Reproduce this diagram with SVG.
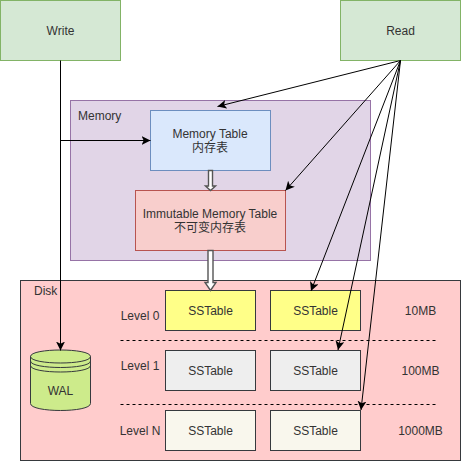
<svg xmlns="http://www.w3.org/2000/svg" width="462" height="462" viewBox="0 0 462 462">
<style>
text{font-family:"Liberation Sans",Arial,"Noto Sans CJK SC",sans-serif;font-size:12px;fill:#333;text-anchor:middle}
.l{text-anchor:start}
.g{fill:#d5e8d4;stroke:#82b366}
.e{fill:none;stroke:#000;stroke-width:1}
.b{fill:#fff;stroke:#555;stroke-width:1.4}
.d{fill:none;stroke:#000;stroke-dasharray:3 3}
</style>
<defs>
<marker id="a" markerUnits="userSpaceOnUse" markerWidth="10" markerHeight="10" refX="9" refY="4.5" orient="auto"><path d="M0 0L9 4.5L0 9L2.2 4.5Z" fill="#000"/></marker>
</defs>
<g id="write"><rect class="g" x="0.5" y="0.5" width="120" height="60"/><text x="60.5" y="35">Write</text></g>
<g id="read"><rect class="g" x="340.5" y="0.5" width="120" height="60"/><text x="400.5" y="35">Read</text></g>
<g id="memory"><rect x="70.5" y="100.5" width="300" height="160" fill="#e1d5e7" stroke="#9673a6"/><text class="l" x="78" y="120">Memory</text></g>
<g id="disk"><rect x="20.5" y="280.5" width="440" height="180" fill="#ffcccc" stroke="#36393d"/><text class="l" x="34" y="295">Disk</text></g>
<g id="memtable"><rect x="150.5" y="110.5" width="120" height="60" fill="#dae8fc" stroke="#6c8ebf"/><text x="210" y="138">Memory Table</text><text x="210" y="152">内存表</text></g>
<g id="immutable"><rect x="135.5" y="190.5" width="150" height="60" fill="#f8cecc" stroke="#b85450"/><text x="210" y="218">Immutable Memory Table</text><text x="210" y="232">不可变内存表</text></g>
<g id="wal"><path d="M30.500 356.500C30.500 347.830 90.500 347.830 90.500 356.500L90.500 403.500C90.500 412.830 30.500 412.830 30.500 403.500Z" fill="#cdeb8b" stroke="#36393d"/><path d="M30.500 356.500C30.500 365.170 90.500 365.170 90.500 356.500M30.500 361C30.500 369.670 90.500 369.670 90.500 361M30.500 365.500C30.500 374.170 90.500 374.170 90.500 365.500" fill="none" stroke="#36393d"/><text x="60.500" y="395">WAL</text></g>
<g id="l0"><text x="140" y="320">Level 0</text></g>
<g id="l1"><text x="140" y="370">Level 1</text></g>
<g id="ln"><text x="140" y="435">Level N</text></g>
<g id="s00"><rect x="165.500" y="290.500" width="90" height="40" fill="#ffff88" stroke="#36393d"/><text x="210.500" y="315">SSTable</text></g>
<g id="s01"><rect x="270.500" y="290.500" width="90" height="40" fill="#ffff88" stroke="#36393d"/><text x="315.500" y="315">SSTable</text></g>
<g id="s10"><rect x="165.500" y="350.500" width="90" height="40" fill="#eeeeee" stroke="#36393d"/><text x="210.500" y="375">SSTable</text></g>
<g id="s11"><rect x="270.500" y="350.500" width="90" height="40" fill="#eeeeee" stroke="#36393d"/><text x="315.500" y="375">SSTable</text></g>
<g id="s20"><rect x="165.500" y="410.500" width="90" height="40" fill="#f9f7ed" stroke="#36393d"/><text x="210.500" y="435">SSTable</text></g>
<g id="s21"><rect x="270.500" y="410.500" width="90" height="40" fill="#f9f7ed" stroke="#36393d"/><text x="315.500" y="435">SSTable</text></g>
<g id="m10"><text x="420.500" y="315">10MB</text></g>
<g id="m100"><text x="420.500" y="375">100MB</text></g>
<g id="m1000"><text x="420.500" y="435">1000MB</text></g>
<g id="connectors">
<path class="d" d="M120.500 340.500H436M120.500 404.500H436"/>
<path class="e" marker-end="url(#a)" d="M60.500 60.500V350.500"/>
<path class="e" marker-end="url(#a)" d="M60.500 140.500H150.500"/>
<path class="e" marker-end="url(#a)" d="M400.500 60.500L217.500 106.500"/>
<path class="e" marker-end="url(#a)" d="M400.500 60.500L285.500 190.500"/>
<path class="e" marker-end="url(#a)" d="M400.500 60.500L311 291"/>
<path class="e" marker-end="url(#a)" d="M400.500 60.500L338 350"/>
<path class="e" marker-end="url(#a)" d="M400.500 60.500L361 410"/>
<path class="b" d="M208.500 170.500H212.500V186H215.500L210.500 190.500L205.500 186H208.500Z"/>
<path class="b" d="M208 250.500H213V282.500H216L210.500 290.500L205 282.500H208Z"/>
</g>
</svg>
